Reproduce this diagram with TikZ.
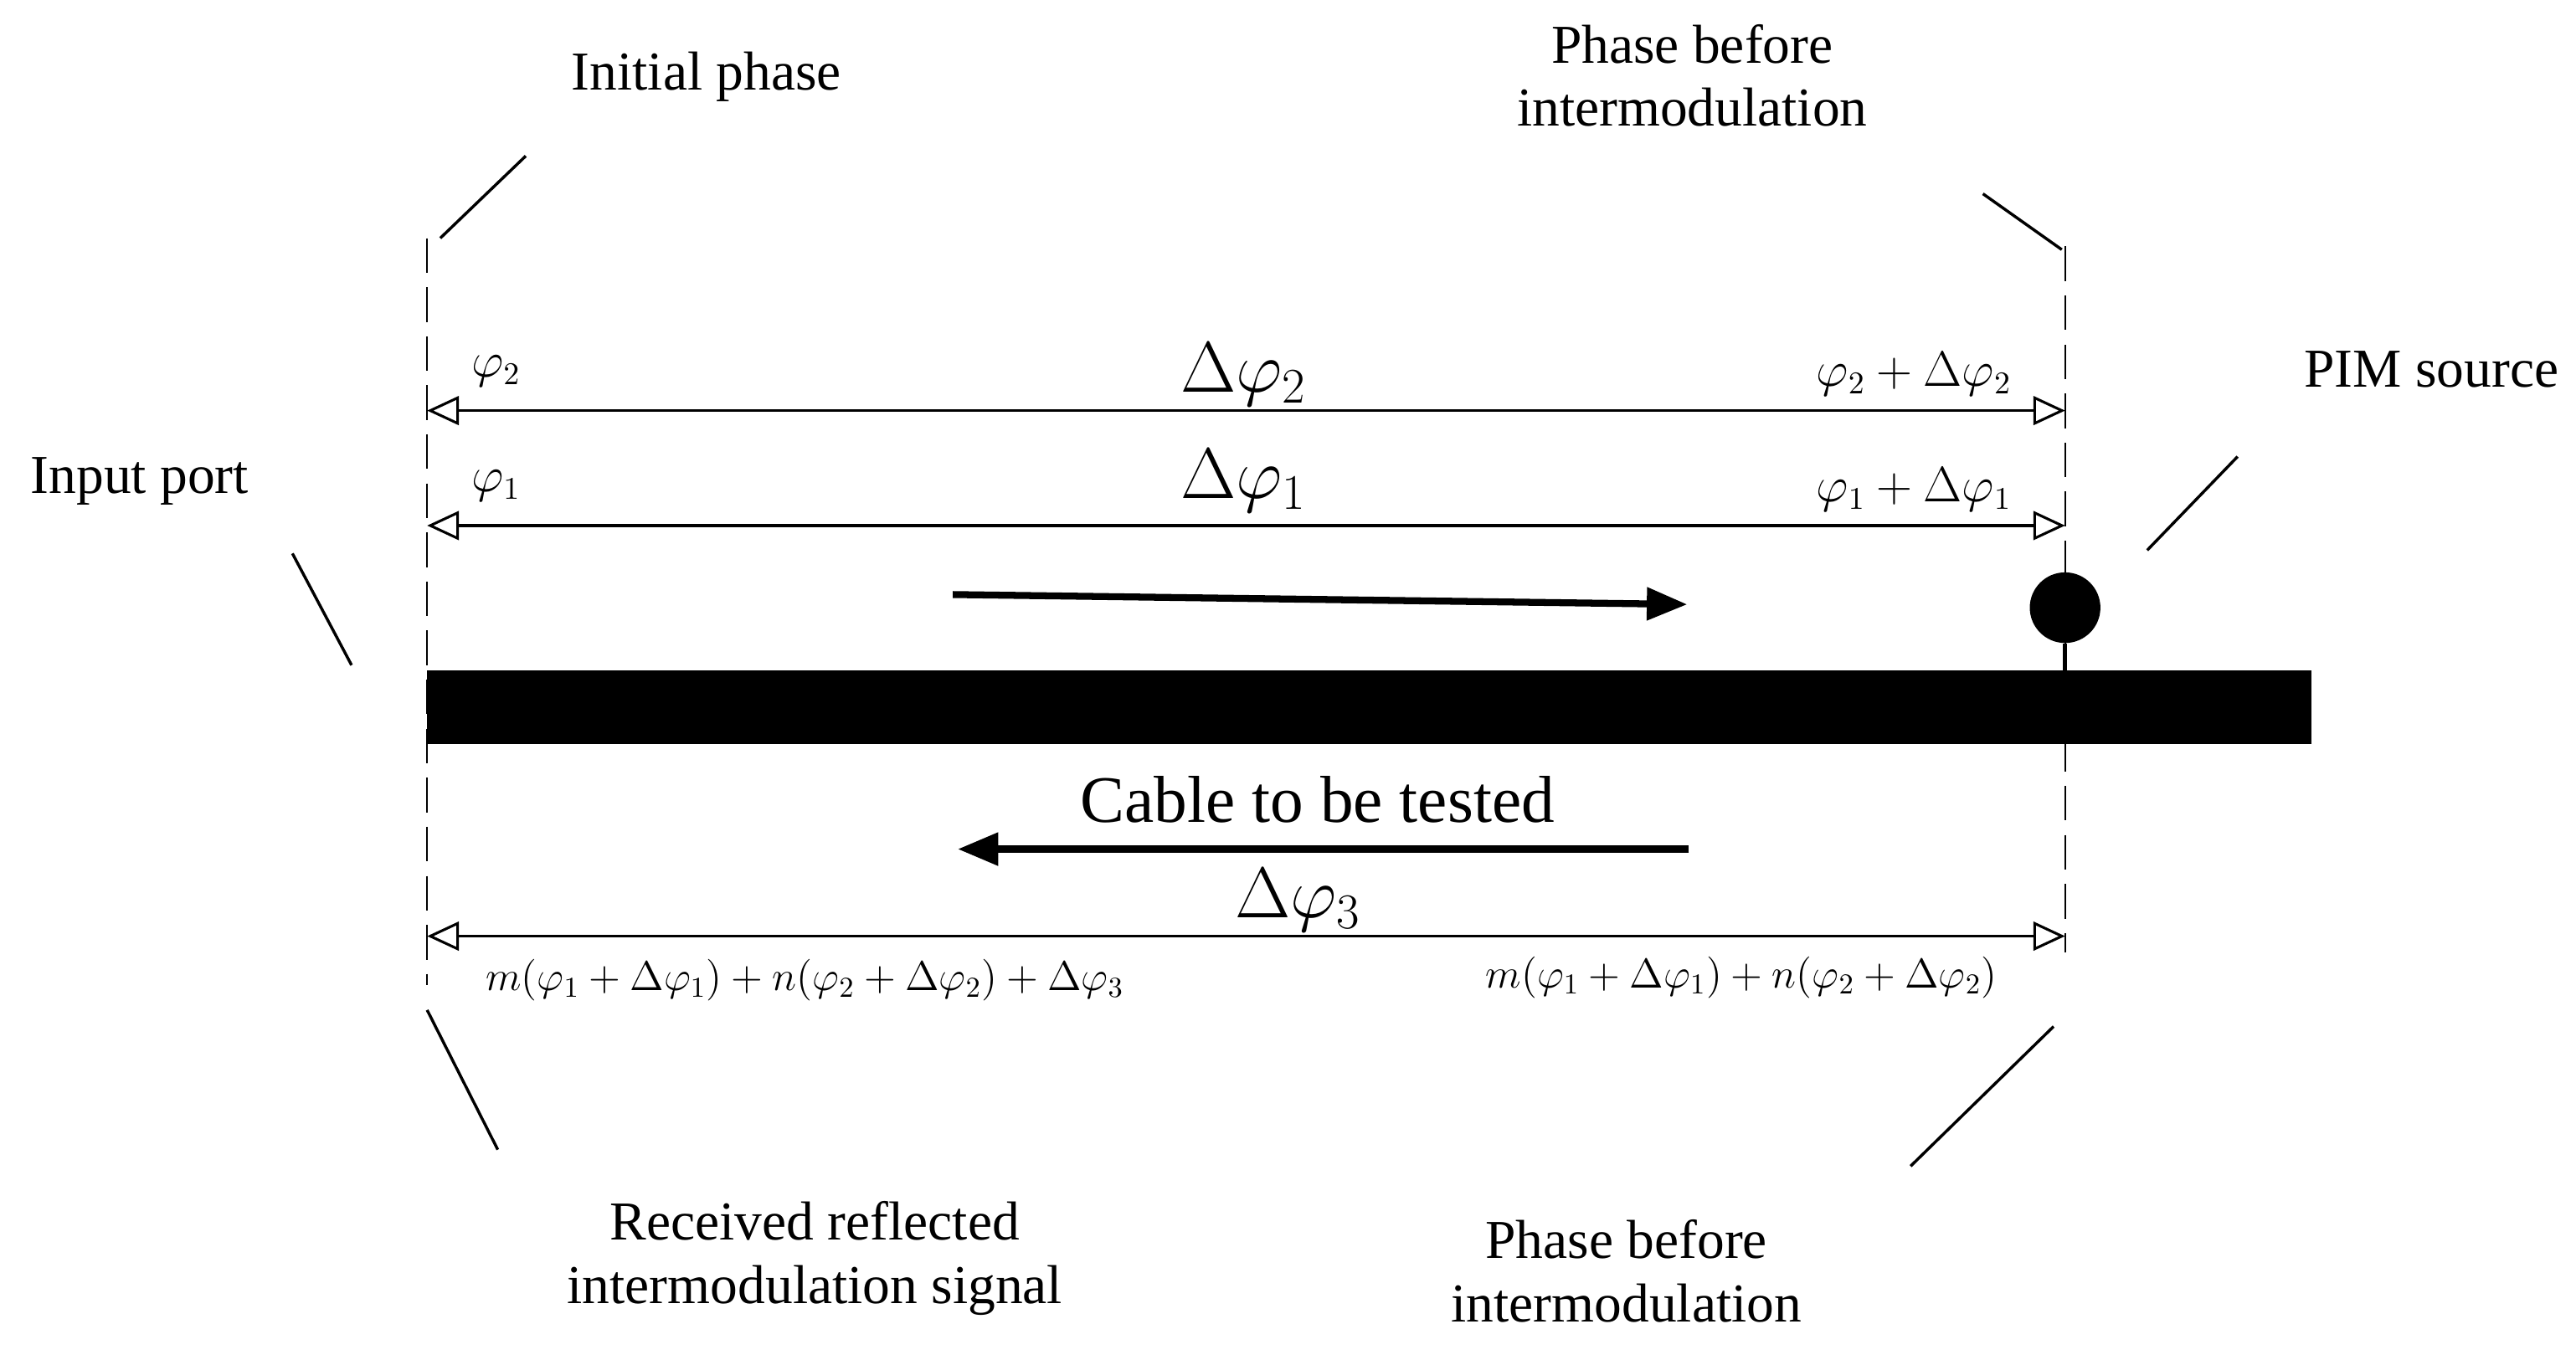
\documentclass[tikz,border=0pt]{standalone}
\usepackage{fontspec}
\setmainfont{Liberation Serif}
\usetikzlibrary{arrows.meta}
\begin{document}
\begin{tikzpicture}[x=0.02cm,y=-0.02cm,
  lbl/.style={font=\fontsize{19}{22}\selectfont,align=center},
  sm/.style={font=\fontsize{16}{18}\selectfont},
  big/.style={font=\fontsize{23}{26}\selectfont},
  dim/.style={line width=0.9pt,{Triangle[open,length=11pt,width=10pt]}-{Triangle[open,length=11pt,width=10pt]}},
  lead/.style={line width=1pt},
  dsh/.style={line width=0.7pt,dash pattern=on 12pt off 5pt},
  flow/.style={line width=2.4pt,-{Triangle[length=14pt,width=11pt]}}]
\useasboundingbox (0,0) rectangle (1568,828);
\coordinate (L1) at (260,145); \coordinate (L2) at (260,600);
\coordinate (R1) at (1257,150); \coordinate (R2) at (1257,580);
\draw[dsh] (L1) -- (L2);
\draw[dsh] (R1) -- (R2);
\fill (260,408) rectangle (1407,453);
\coordinate (a2) at (260,250); \coordinate (b2) at (1257,250);
\coordinate (a1) at (260,320); \coordinate (b1) at (1257,320);
\coordinate (a3) at (260,570); \coordinate (b3) at (1257,570);
\draw[dim] (a2) -- (b2);
\draw[dim] (a1) -- (b1);
\draw[dim] (a3) -- (b3);
\node[sm] (p2) at (302,226) {$\varphi_2$};
\node[big] (d2) at (757,228) {$\Delta\varphi_2$};
\node[sm] (p2d) at (1165,228) {$\varphi_2+\Delta\varphi_2$};
\node[sm] (p1) at (302,296) {$\varphi_1$};
\node[big] (d1) at (757,293) {$\Delta\varphi_1$};
\node[sm] (p1d) at (1165,298) {$\varphi_1+\Delta\varphi_1$};
\coordinate (f1) at (580,362); \coordinate (f2) at (1027,368);
\draw[flow] (f1) -- (f2);
\coordinate (g1) at (1028,517); \coordinate (g2) at (583,517);
\draw[flow] (g1) -- (g2);
\node[big] (cab) at (802,487) {Cable to be tested};
\node[big] (d3) at (790,548) {$\Delta\varphi_3$};
\node[font=\fontsize{14}{16}\selectfont] (m1) at (490,597) {$m(\varphi_1+\Delta\varphi_1)+n(\varphi_2+\Delta\varphi_2)+\Delta\varphi_3$};
\node[font=\fontsize{14}{16}\selectfont] (m2) at (1060,595) {$m(\varphi_1+\Delta\varphi_1)+n(\varphi_2+\Delta\varphi_2)$};
\node[circle,fill,minimum size=0.86cm,inner sep=0] (pim) at (1257,370) {};
\coordinate (st) at (1257,408);
\draw[line width=1.5pt] (pim) -- (st);
\node[lbl] (ip) at (430,47) {Initial phase};
\draw[lead] (320,95) -- (268,145);
\node[lbl] (pbt) at (1030,46) {Phase before\\intermodulation};
\draw[lead] (1207,118) -- (1255,152);
\node[lbl] (ps) at (1480,225) {PIM source};
\draw[lead] (1362,278) -- (1307,335);
\node[lbl] (inp) at (85,293) {Input port};
\draw[lead] (178,337) -- (214,405);
\draw[lead] (260,615) -- (303,700);
\node[lbl] (rr) at (496,766) {Received reflected\\intermodulation signal};
\draw[lead] (1250,625) -- (1163,710);
\node[lbl] (pbb) at (990,774) {Phase before\\intermodulation};
\end{tikzpicture}
\end{document}
